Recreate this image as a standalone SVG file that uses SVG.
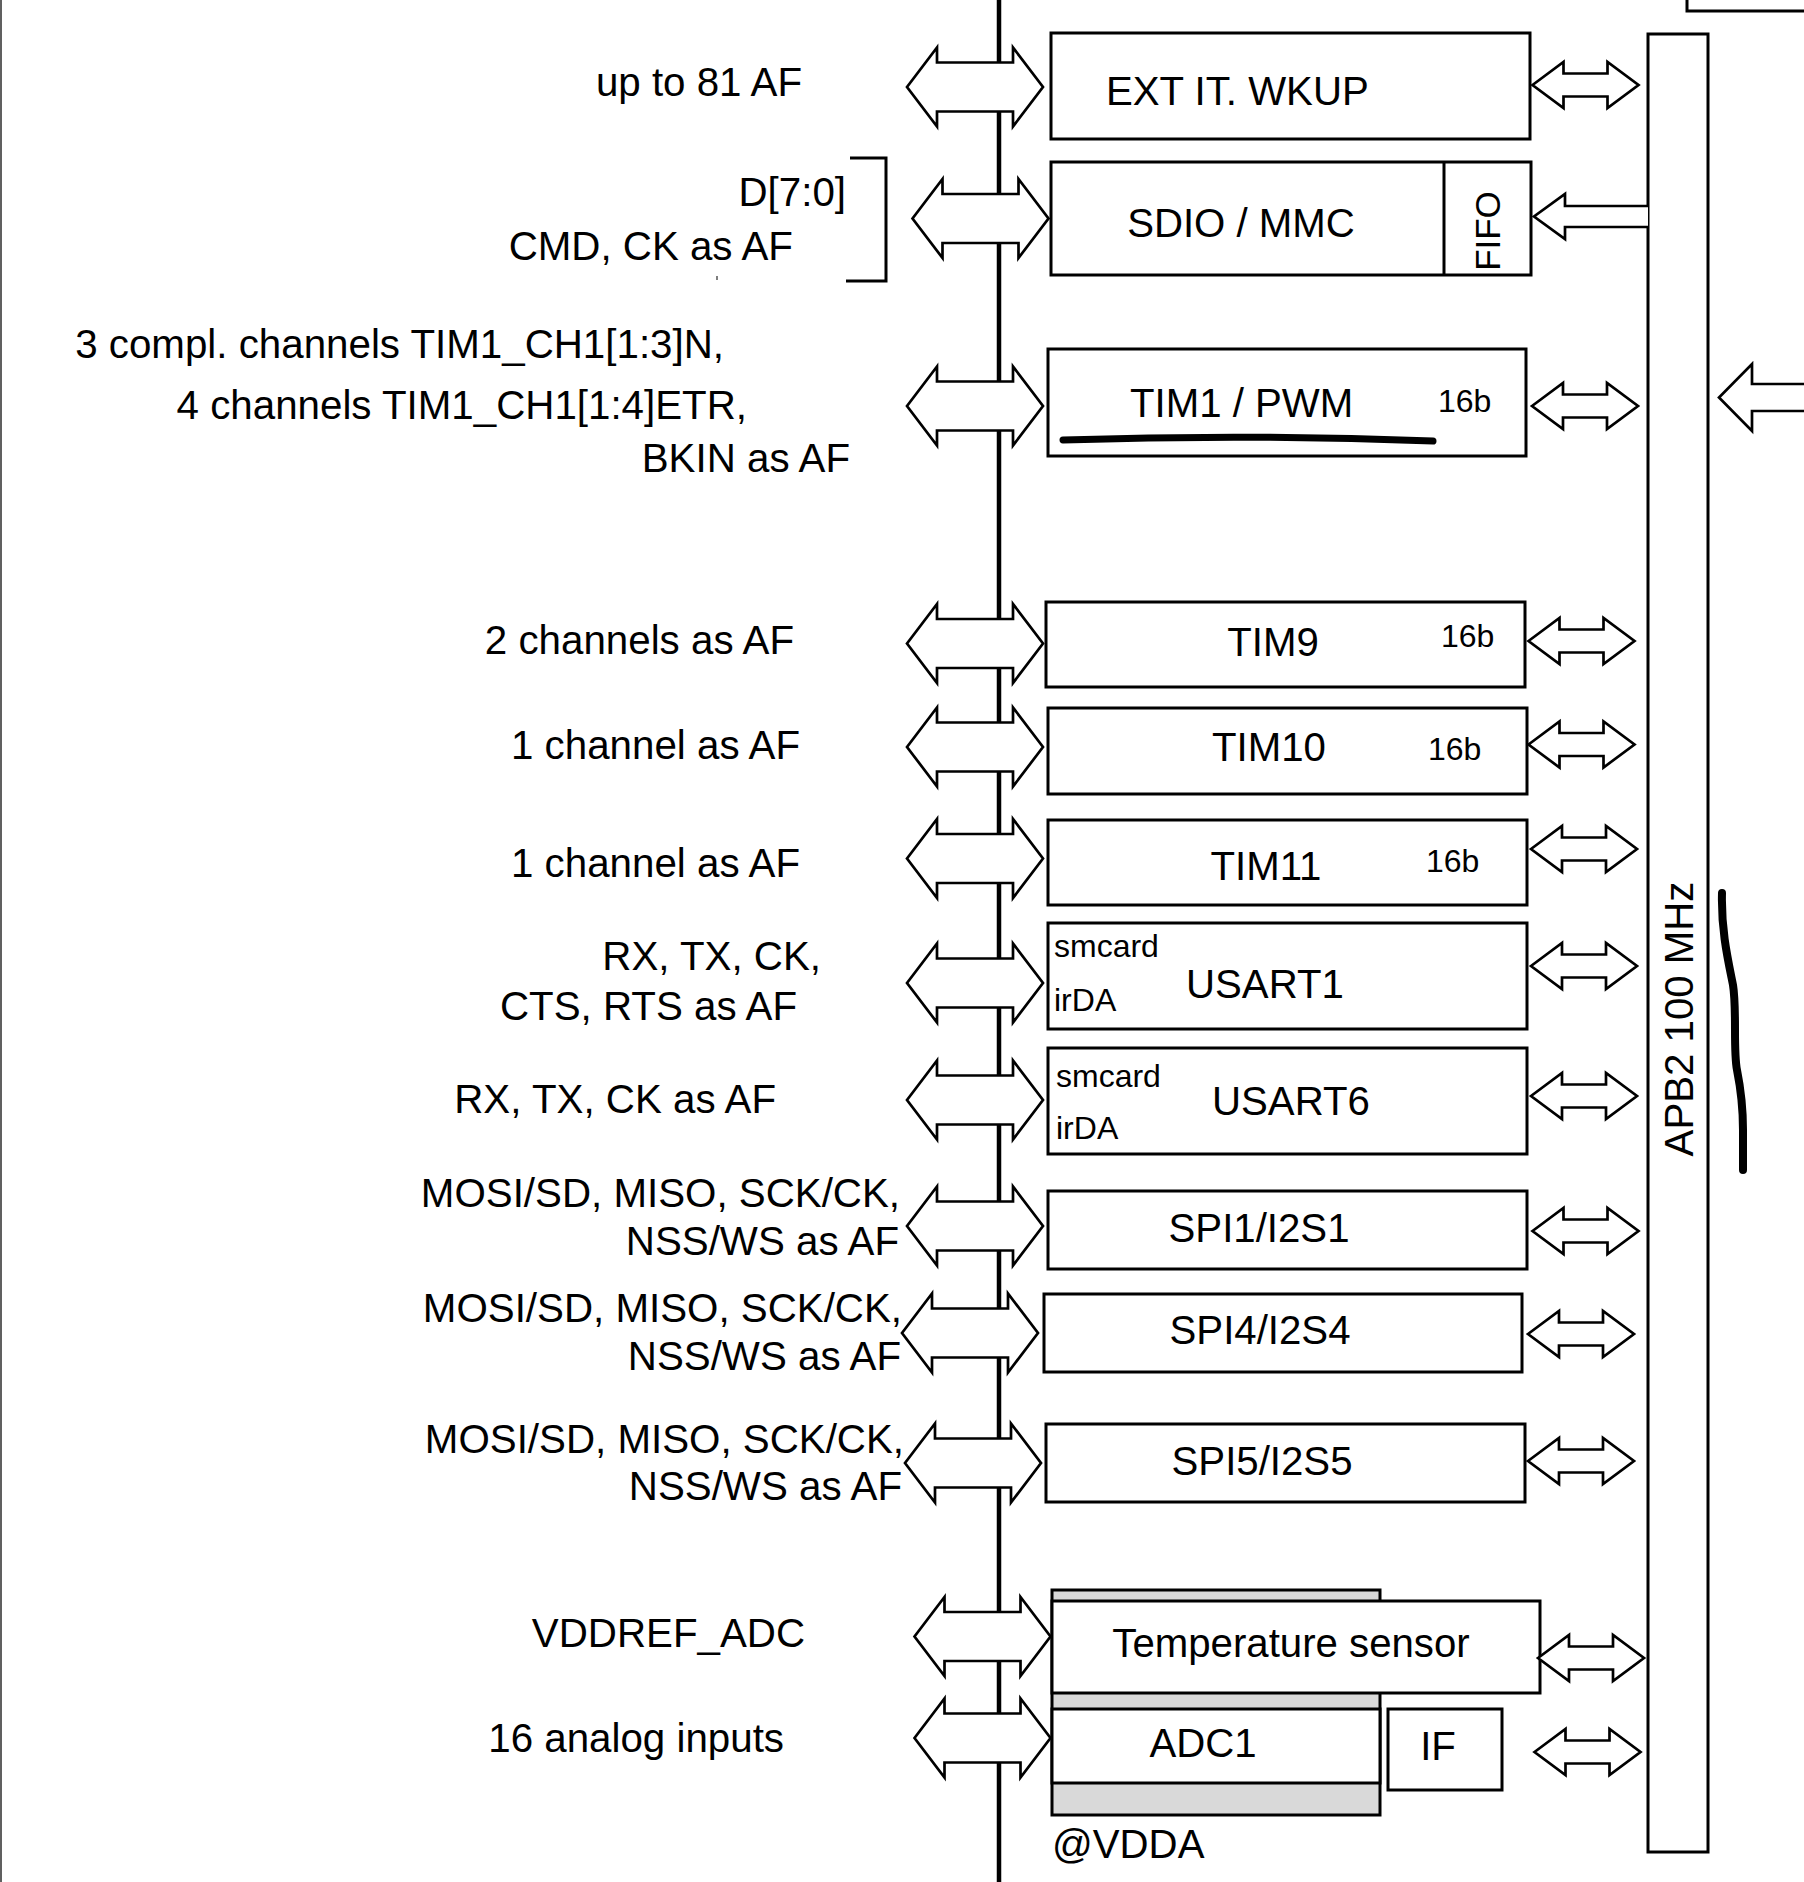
<svg xmlns="http://www.w3.org/2000/svg" xmlns:xlink="http://www.w3.org/1999/xlink" width="1804" height="1882" viewBox="0 0 1804 1882">
<style>
text{font-family:"Liberation Sans",Arial,sans-serif;fill:#000}
.lbl{font-size:40.3px;text-anchor:end}
.t{font-size:40.2px}
.m{text-anchor:middle}
.s{font-size:32px}
.box{fill:#fff;stroke:#000;stroke-width:3}
.gray{fill:#d9d9d9;stroke:#000;stroke-width:3}
.arr{fill:#fff;stroke:#000;stroke-width:2.7;stroke-linejoin:miter}
.ln{fill:none;stroke:#000}
</style>
<defs>
<path id="big" d="M-68,0 L-38,-39.5 L-38,-24.5 L38,-24.5 L38,-39.5 L68,0 L38,39.5 L38,24.5 L-38,24.5 L-38,39.5 Z"/>
<path id="small" d="M-53,0 L-22,-23 L-22,-11.5 L22,-11.5 L22,-23 L53,0 L22,23 L22,11.5 L-22,11.5 L-22,23 Z"/>
</defs>
<rect width="1804" height="1882" fill="#fff"/>
<line x1="1" y1="0" x2="1" y2="1882" stroke="#606060" stroke-width="2"/>
<g id="bus-main"><line class="ln" x1="999" y1="0" x2="999" y2="1882" stroke-width="4.5"/></g>
<g id="top-right-fragment"><path class="ln" stroke-width="3" d="M1687,0 L1687,11 L1810,11"/></g>
<g id="apb2"><rect class="box" x="1648" y="34" width="60" height="1818"/>
<text class="t" transform="translate(1693,1019) rotate(-90)" text-anchor="middle">APB2 100 MHz</text></g>
<g id="ext-it"><rect class="box" x="1051" y="33" width="479" height="106"/><text class="t" x="1106" y="105">EXT IT. WKUP</text></g>
<g id="sdio"><rect class="box" x="1051" y="162" width="480" height="113"/><line class="ln" stroke-width="3" x1="1444" y1="162" x2="1444" y2="275"/>
<text class="t m" x="1241" y="237">SDIO / MMC</text>
<text transform="translate(1500,231) rotate(-90)" text-anchor="middle" font-size="35">FIFO</text></g>
<g id="tim1"><rect class="box" x="1048" y="349" width="478" height="107"/><text class="t" x="1130" y="417">TIM1 / PWM</text><text class="s" x="1438" y="412">16b</text>
<path class="ln" stroke-width="7" stroke-linecap="round" d="M1063,440 Q1248,434 1433,441"/></g>
<g id="tim9"><rect class="box" x="1046" y="602" width="479" height="85"/><text class="t m" x="1273" y="656">TIM9</text><text class="s" x="1441" y="647">16b</text></g>
<g id="tim10"><rect class="box" x="1048" y="708" width="479" height="86"/><text class="t m" x="1269" y="761">TIM10</text><text class="s" x="1428" y="760">16b</text></g>
<g id="tim11"><rect class="box" x="1048" y="820" width="479" height="85"/><text class="t m" x="1266" y="880">TIM11</text><text class="s" x="1426" y="872">16b</text></g>
<g id="usart1"><rect class="box" x="1048" y="923" width="479" height="106"/><text class="s" x="1054" y="957">smcard</text><text class="s" x="1054" y="1011">irDA</text><text class="t" x="1186" y="998">USART1</text></g>
<g id="usart6"><rect class="box" x="1048" y="1048" width="479" height="106"/><text class="s" x="1056" y="1087">smcard</text><text class="s" x="1056" y="1139">irDA</text><text class="t" x="1212" y="1115">USART6</text></g>
<g id="spi1"><rect class="box" x="1048" y="1191" width="479" height="78"/><text class="t m" x="1259" y="1242">SPI1/I2S1</text></g>
<g id="spi4"><rect class="box" x="1044" y="1294" width="478" height="78"/><text class="t m" x="1260" y="1344">SPI4/I2S4</text></g>
<g id="spi5"><rect class="box" x="1046" y="1424" width="479" height="78"/><text class="t m" x="1262" y="1475">SPI5/I2S5</text></g>
<g id="adc-block"><rect class="gray" x="1052" y="1590" width="328" height="225"/>
<g id="temp-sensor"><rect class="box" x="1052" y="1601" width="488" height="92"/><text class="t m" x="1291" y="1657">Temperature sensor</text></g>
<g id="adc1"><rect class="box" x="1052" y="1709" width="328" height="74"/><text class="t m" x="1203" y="1757">ADC1</text></g></g>
<g id="if"><rect class="box" x="1388" y="1709" width="114" height="81"/><text class="t m" x="1438" y="1760">IF</text></g>
<text class="t" x="1052" y="1858">@VDDA</text>
<g id="labels">
<text class="lbl" x="802" y="96">up to 81 AF</text>
<text class="lbl" x="846" y="206">D[7:0]</text>
<text class="lbl" x="793" y="260">CMD, CK as AF</text>
<text class="lbl" x="724" y="358">3 compl. channels TIM1_CH1[1:3]N,</text>
<text class="lbl" x="747" y="419">4 channels TIM1_CH1[1:4]ETR,</text>
<text class="lbl" x="850" y="472">BKIN as AF</text>
<text class="lbl" x="794" y="654">2 channels as AF</text>
<text class="lbl" x="800" y="759">1 channel as AF</text>
<text class="lbl" x="800" y="877">1 channel as AF</text>
<text class="lbl" x="821" y="970">RX, TX, CK,</text>
<text class="lbl" x="797" y="1020">CTS, RTS as AF</text>
<text class="lbl" x="776" y="1113">RX, TX, CK as AF</text>
<text class="lbl" x="900" y="1207">MOSI/SD, MISO, SCK/CK,</text>
<text class="lbl" x="899" y="1255">NSS/WS as AF</text>
<text class="lbl" x="902" y="1322">MOSI/SD, MISO, SCK/CK,</text>
<text class="lbl" x="901" y="1370">NSS/WS as AF</text>
<text class="lbl" x="904" y="1453">MOSI/SD, MISO, SCK/CK,</text>
<text class="lbl" x="902" y="1500">NSS/WS as AF</text>
<text class="lbl" x="805" y="1647">VDDREF_ADC</text>
<text class="lbl" x="784" y="1752">16 analog inputs</text>
</g>
<g id="bracket"><path class="ln" stroke-width="3" d="M850,158 L886,158 L886,281 L846,281"/><line x1="717" y1="276" x2="717" y2="280" stroke="#555" stroke-width="1.5"/></g>
<g id="connectors">
<use xlink:href="#big" href="#big" class="arr" transform="translate(975,87)"/>
<use xlink:href="#big" href="#big" class="arr" transform="translate(980.5,218.5)"/>
<use xlink:href="#big" href="#big" class="arr" transform="translate(975,406)"/>
<use xlink:href="#big" href="#big" class="arr" transform="translate(975,643.5)"/>
<use xlink:href="#big" href="#big" class="arr" transform="translate(975,747)"/>
<use xlink:href="#big" href="#big" class="arr" transform="translate(975,858.5)"/>
<use xlink:href="#big" href="#big" class="arr" transform="translate(975,983)"/>
<use xlink:href="#big" href="#big" class="arr" transform="translate(975,1100)"/>
<use xlink:href="#big" href="#big" class="arr" transform="translate(975,1226)"/>
<use xlink:href="#big" href="#big" class="arr" transform="translate(970,1333)"/>
<use xlink:href="#big" href="#big" class="arr" transform="translate(973,1463)"/>
<use xlink:href="#big" href="#big" class="arr" transform="translate(982.5,1636.5)"/>
<use xlink:href="#big" href="#big" class="arr" transform="translate(982.5,1738)"/>
<use xlink:href="#small" href="#small" class="arr" transform="translate(1585.5,85)"/>
<use xlink:href="#small" href="#small" class="arr" transform="translate(1585,406)"/>
<use xlink:href="#small" href="#small" class="arr" transform="translate(1581.5,641)"/>
<use xlink:href="#small" href="#small" class="arr" transform="translate(1581.5,744.5)"/>
<use xlink:href="#small" href="#small" class="arr" transform="translate(1584,849)"/>
<use xlink:href="#small" href="#small" class="arr" transform="translate(1584,966)"/>
<use xlink:href="#small" href="#small" class="arr" transform="translate(1584,1096)"/>
<use xlink:href="#small" href="#small" class="arr" transform="translate(1585.5,1231)"/>
<use xlink:href="#small" href="#small" class="arr" transform="translate(1581,1334)"/>
<use xlink:href="#small" href="#small" class="arr" transform="translate(1581,1461)"/>
<use xlink:href="#small" href="#small" class="arr" transform="translate(1591,1658)"/>
<use xlink:href="#small" href="#small" class="arr" transform="translate(1587.5,1752)"/>
<path class="arr" d="M1648,206 L1565,206 L1565,194 L1534,216.5 L1565,239 L1565,227 L1648,227"/>
<path class="arr" d="M1810,384 L1752,384 L1752,364 L1719,397.5 L1752,431 L1752,411 L1810,411"/>
</g>
<path id="hand-stroke" class="ln" stroke-width="8" stroke-linecap="round" d="M1722,893 C1721,930 1728,960 1733,985 C1737,1010 1733,1050 1737,1070 C1741,1090 1743,1110 1743,1130 L1743,1170"/>
</svg>
